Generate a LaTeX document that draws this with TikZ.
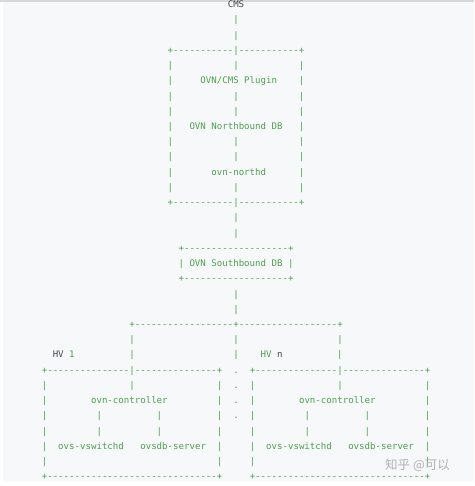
\documentclass[tikz,border=0pt]{standalone}
\usepackage{fontspec}
\setmonofont{DejaVu Sans Mono}
\newfontfamily\cjkfont{Noto Sans CJK SC}
\definecolor{ovgreen}{HTML}{4E9F4E}
\definecolor{ovdark}{HTML}{44464C}
\definecolor{bgpanel}{HTML}{F7F8FA}
\definecolor{topband}{HTML}{D6D7D9}
\newcommand\rowtxt[4]{\node[txt] (#1) at ({236+(#2-42)*5.47-2.735}, {5+15.23*#3+2.7}) {#4};}
\begin{document}
\begin{tikzpicture}[x=1pt,y=-1pt,
  txt/.style={anchor=base west, inner sep=0pt, outer sep=0pt,
    font=\ttfamily\fontsize{9.09}{11}\selectfont, text=ovgreen},
  wm/.style={inner sep=0pt, font=\cjkfont\fontsize{12.5}{14}\selectfont, text=black!30}]
\useasboundingbox (0,0) rectangle (474,486);
\fill[white] (0,0) rectangle (474,486);
\fill[bgpanel] (3,2.5) rectangle (474,481);
\fill[topband] (0,0) rectangle (474,2.5);
% top: CMS and plugin box
\rowtxt{r0}{41}{0}{\textcolor{ovdark}{CMS}}
\rowtxt{r1}{42}{1}{|}
\rowtxt{r2}{42}{2}{|}
\rowtxt{r3}{30}{3}{+-----------|-----------+}
\rowtxt{r4}{30}{4}{|~~~~~~~~~~~|~~~~~~~~~~~|}
\rowtxt{r5}{30}{5}{|~~~~~OVN/CMS~Plugin~~~~|}
\rowtxt{r6}{30}{6}{|~~~~~~~~~~~|~~~~~~~~~~~|}
\rowtxt{r7}{30}{7}{|~~~~~~~~~~~|~~~~~~~~~~~|}
\rowtxt{r8}{30}{8}{|~~~OVN~Northbound~DB~~~|}
\rowtxt{r9}{30}{9}{|~~~~~~~~~~~|~~~~~~~~~~~|}
\rowtxt{r10}{30}{10}{|~~~~~~~~~~~|~~~~~~~~~~~|}
\rowtxt{r11}{30}{11}{|~~~~~~~ovn-northd~~~~~~|}
\rowtxt{r12}{30}{12}{|~~~~~~~~~~~|~~~~~~~~~~~|}
\rowtxt{r13}{30}{13}{+-----------|-----------+}
\rowtxt{r14}{42}{14}{|}
\rowtxt{r15}{42}{15}{|}
% southbound
\rowtxt{r16}{32}{16}{+-------------------+}
\rowtxt{r17}{32}{17}{|~OVN~Southbound~DB~|}
\rowtxt{r18}{32}{18}{+-------------------+}
\rowtxt{r19}{42}{19}{|}
\rowtxt{r20}{42}{20}{|}
% split
\rowtxt{r21}{23}{21}{+------------------+------------------+}
\rowtxt{r22}{23}{22}{|~~~~~~~~~~~~~~~~~~|~~~~~~~~~~~~~~~~~~|}
\rowtxt{r23a}{9}{23}{\textcolor{ovdark}{HV}~1}
\rowtxt{r23b}{23}{23}{|~~~~~~~~~~~~~~~~~~|}
\rowtxt{r23c}{47}{23}{HV~\textcolor{ovdark}{n}}
\rowtxt{r23d}{61}{23}{|}
% hypervisors
\rowtxt{r24}{7}{24}{+---------------|---------------+~~.~~+---------------|---------------+}
\rowtxt{r25}{7}{25}{|~~~~~~~~~~~~~~~|~~~~~~~~~~~~~~~|~~.~~|~~~~~~~~~~~~~~~|~~~~~~~~~~~~~~~|}
\rowtxt{r26}{7}{26}{|~~~~~~~~ovn-controller~~~~~~~~~|~~.~~|~~~~~~~~ovn-controller~~~~~~~~~|}
\rowtxt{r27}{7}{27}{|~~~~~~~~~|~~~~~~~~~~|~~~~~~~~~~|~~.~~|~~~~~~~~~|~~~~~~~~~~|~~~~~~~~~~|}
\rowtxt{r28}{7}{28}{|~~~~~~~~~|~~~~~~~~~~|~~~~~~~~~~|~~~~~|~~~~~~~~~|~~~~~~~~~~|~~~~~~~~~~|}
\rowtxt{r29}{7}{29}{|~~ovs-vswitchd~~~ovsdb-server~~|~~~~~|~~ovs-vswitchd~~~ovsdb-server~~|}
\rowtxt{r30}{7}{30}{|~~~~~~~~~~~~~~~~~~~~~~~~~~~~~~~|~~~~~|~~~~~~~~~~~~~~~~~~~~~~~~~~~~~~~|}
\rowtxt{r31}{7}{31}{+-------------------------------+~~~~~+-------------------------------+}
% watermark
\node[wm, anchor=west] (wmark) at (385,465) {知乎 @可以};
\end{tikzpicture}
\end{document}
